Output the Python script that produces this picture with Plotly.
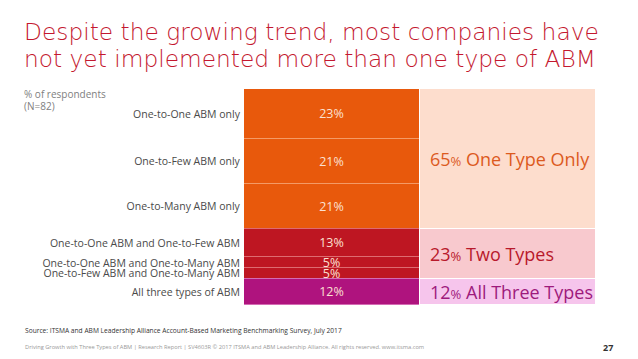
import plotly.graph_objects as go

# ---- data ----
categories = [
    "One-to-One ABM only",
    "One-to-Few ABM only",
    "One-to-Many ABM only",
    "One-to-One ABM and One-to-Few ABM",
    "One-to-One ABM and One-to-Many ABM",
    "One-to-Few ABM and One-to-Many ABM",
    "All three types of ABM",
]
values = [23, 21, 21, 13, 5, 5, 12]
group_of = [0, 0, 0, 1, 1, 1, 2]
group_labels = ["One Type Only", "Two Types", "All Three Types"]

title_lines = ["Despite the growing trend, most companies have",
               "not yet implemented more than one type of ABM"]
subtitle_lines = ["% of respondents", "(N=82)"]
source_text = "Source: ITSMA and ABM Leadership Alliance Account-Based Marketing Benchmarking Survey, July 2017"
footer_text = ("Driving Growth with Three Types of ABM | Research Report | SV4603R \u00a9 2017 ITSMA and ABM Leadership "
               "Alliance. All rights reserved. www.itsma.com")
page_no = "27"

# ---- styles ----
bar_colors = ["#E8590C", "#BE1622", "#AF137E"]
seg_line = ["#F49A66", "#DE6B70", "#D46BB4"]
panel_colors = ["#FDDDCD", "#F8C9CE", "#F6C5EC"]
panel_text = ["#DC5A1E", "#B8192B", "#9E1A7C"]
FONT = "Open Sans"
TFONT = "DejaVu Sans"
W, H = 638, 359
OX, OY = 8, 8  # page body margin


def px(x):
    return (x - OX) / W


def py(y):
    return 1 - (y - OY) / H


fig = go.Figure()

# stacked segments
for cat, v, g in zip(categories, values, group_of):
    fig.add_trace(go.Bar(
        x=[0], y=[v], width=1, name=cat,
        marker=dict(color=bar_colors[g], line=dict(color=seg_line[g], width=1)),
        text=[f"{v}%"], textposition="inside", insidetextanchor="middle",
        textfont=dict(family=FONT, size=12.5, color="#FCE0D2"),
        hoverinfo="skip",
    ))

# group totals
totals = [sum(v for v, gg in zip(values, group_of) if gg == g) for g in range(3)]
for g, t in enumerate(totals):
    fig.add_trace(go.Bar(
        x=[1], y=[t], width=1, name=group_labels[g],
        marker=dict(color=panel_colors[g], line=dict(color="#FFFFFF", width=1)),
        hoverinfo="skip",
    ))

# midpoints
mids, cum = [], 0
for v in values:
    mids.append(cum + v / 2)
    cum += v
gmids, cum = [], 0
for t in totals:
    gmids.append(cum + t / 2)
    cum += t

for g, (t, m) in enumerate(zip(totals, gmids)):
    fig.add_annotation(
        x=0.545, y=m, xref="x", yref="y", xanchor="left", yanchor="middle",
        text=f"{t}<span style='font-size:13px'>%</span> {group_labels[g]}",
        showarrow=False, font=dict(family=FONT, size=18, color=panel_text[g]),
    )

# title
for i, line in enumerate(title_lines):
    fig.add_annotation(
        x=px(22), y=py(31 + 27 * i), xref="paper", yref="paper",
        xanchor="left", yanchor="middle", text=line, showarrow=False,
        font=dict(family=TFONT, size=23.3, color="#C4182F", weight=200),
    )

for i, line in enumerate(subtitle_lines):
    fig.add_annotation(x=px(22), y=py(94 + 12 * i), xref="paper", yref="paper", xanchor="left",
                       yanchor="middle", text=line, showarrow=False,
                       font=dict(family=FONT, size=10, color="#808080"))
fig.add_annotation(x=px(23), y=py(330), xref="paper", yref="paper", xanchor="left", yanchor="middle",
                   text=source_text, showarrow=False, font=dict(family=FONT, size=6.65, color="#333333"))
fig.add_annotation(x=px(23), y=py(347), xref="paper", yref="paper", xanchor="left", yanchor="middle",
                   text=footer_text, showarrow=False, font=dict(family=FONT, size=5.7, color="#999999"))
fig.add_annotation(x=px(615), y=py(347), xref="paper", yref="paper", xanchor="right", yanchor="middle",
                   text=f"<b>{page_no}</b>", showarrow=False, font=dict(family=FONT, size=9, color="#333333"))

fig.update_layout(
    width=W, height=H, margin=dict(l=0, r=0, t=0, b=0),
    paper_bgcolor="white", plot_bgcolor="white",
    barmode="stack", bargap=0, showlegend=False,
    uniformtext=dict(minsize=10, mode="show"),
    font=dict(family=FONT),
    xaxis=dict(range=[-0.5, 1.5], domain=[px(244), px(596)], visible=False, fixedrange=True),
    yaxis=dict(range=[100, 0], domain=[py(305), py(89)], showgrid=False, zeroline=False,
               showline=False, tickmode="array", tickvals=mids, ticktext=categories,
               ticks="outside", ticklen=1, tickcolor="rgba(0,0,0,0)",
               tickfont=dict(family=FONT, size=10.5, color="#4A4A4A")),
)

fig.write_html("out.html")
